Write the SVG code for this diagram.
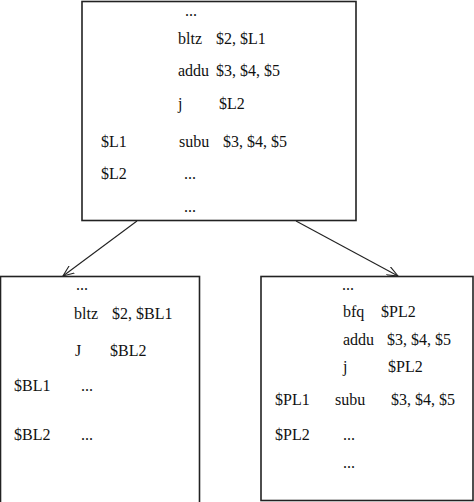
<svg xmlns="http://www.w3.org/2000/svg" width="474" height="502" viewBox="0 0 474 502">
<style>
.box{fill:#fff;stroke:#222;stroke-width:1.6}
text{font-family:"Liberation Serif","Times New Roman",serif;font-size:16px;fill:#111}
.edge{stroke:#222;stroke-width:1.1;fill:none}
</style>
<defs>
<marker id="arr" viewBox="0 0 12 10" refX="11" refY="5" markerWidth="12" markerHeight="10" markerUnits="userSpaceOnUse" orient="auto">
<path d="M0,0.5 L11,5 L0,9.5" fill="none" stroke="#222" stroke-width="1.1"/>
</marker>
</defs>
<rect width="474" height="502" fill="#fff"/>
<g id="connectors">
<line class="edge" x1="137" y1="221" x2="63" y2="276" marker-end="url(#arr)"/>
<line class="edge" x1="296" y1="221" x2="398" y2="276" marker-end="url(#arr)"/>
</g>
<g id="top">
<rect class="box" x="82" y="1.5" width="274" height="219"/>
<text x="185" y="16">...</text>
<text x="178" y="44">bltz</text><text x="216" y="44">$2, $L1</text>
<text x="178" y="76">addu</text><text x="216" y="76">$3, $4, $5</text>
<text x="178" y="109">j</text><text x="219" y="109">$L2</text>
<text x="101" y="147">$L1</text><text x="179" y="147">subu</text><text x="223" y="147">$3, $4, $5</text>
<text x="101" y="179">$L2</text><text x="184" y="179">...</text>
<text x="184" y="212">...</text>
</g>
<g id="left">
<rect class="box" x="0.5" y="276.5" width="199" height="230"/>
<text x="76" y="290">...</text>
<text x="74" y="319">bltz</text><text x="112" y="319">$2, $BL1</text>
<text x="75" y="356">J</text><text x="110" y="356">$BL2</text>
<text x="14" y="391">$BL1</text><text x="81" y="391">...</text>
<text x="14" y="440">$BL2</text><text x="81" y="440">...</text>
</g>
<g id="right">
<rect class="box" x="261" y="276.5" width="212" height="224"/>
<text x="342" y="290">...</text>
<text x="343" y="317">bfq</text><text x="381" y="317">$PL2</text>
<text x="343" y="345">addu</text><text x="387" y="345">$3, $4, $5</text>
<text x="343" y="372">j</text><text x="388" y="372">$PL2</text>
<text x="275" y="405">$PL1</text><text x="335" y="405">subu</text><text x="391" y="405">$3, $4, $5</text>
<text x="275" y="440">$PL2</text><text x="343" y="440">...</text>
<text x="343" y="468">...</text>
</g>
</svg>
